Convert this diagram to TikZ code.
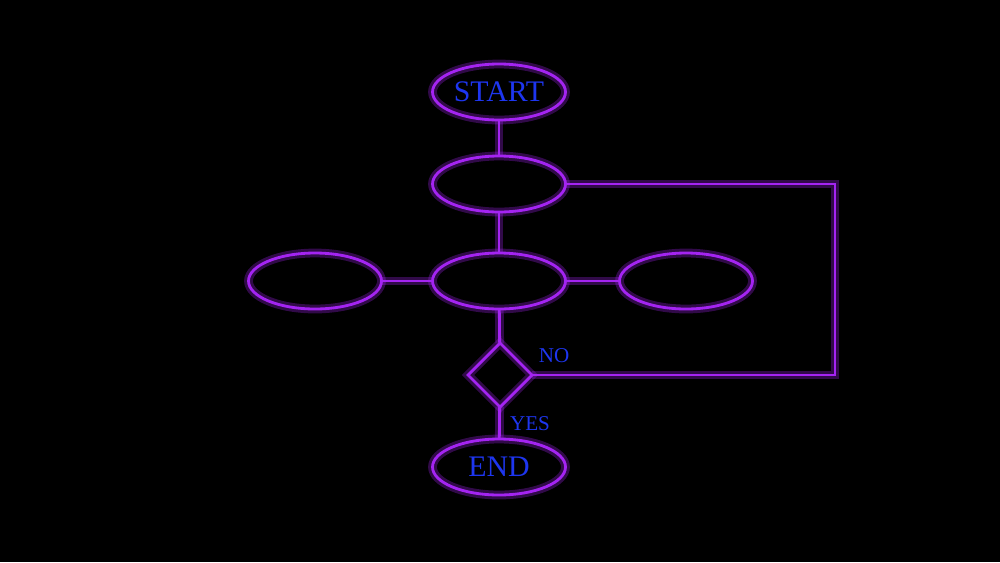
\documentclass[tikz,border=0pt]{standalone}
\usepackage{fontspec}
\setmainfont{Liberation Serif}
\usetikzlibrary{shapes.geometric}

\definecolor{neon}{HTML}{A424F2}
\definecolor{ink}{HTML}{1E36F0}

\tikzset{
  glow/.style={preaction={draw=neon,line width=5pt,opacity=0.3}},
  neonline/.style={draw=neon,line width=1.6pt,glow},
  oval/.style={ellipse,neonline,minimum width=2.66cm,minimum height=1.12cm,inner sep=0pt,outer sep=0pt,text=ink,font=\fontsize{17}{17}\selectfont},
  choice/.style={diamond,neonline,minimum width=1.28cm,minimum height=1.28cm,inner sep=0pt,outer sep=0pt},
  tag/.style={text=ink,font=\fontsize{12}{12}\selectfont,inner sep=0pt}
}

\begin{document}
\begin{tikzpicture}[x=0.02cm,y=-0.02cm]

% black background, fixes the size of the page
\fill [black] (0,0) rectangle (1000,562);
\useasboundingbox (0,0) rectangle (1000,562);

% ovals
\node[oval] (start) at (499,92) {START};
\node[oval] (step1) at (499,184) {};
\node[oval] (hub) at (499,281) {};
\node[oval] (left) at (315,281) {};
\node[oval] (right) at (686,281) {};
\node[oval] (stop) at (499,467) {END};

% decision
\node[choice] (dec) at (500,375) {};

% corners of the loop back
\coordinate (c1) at (835,184);
\coordinate (c2) at (835,375);

% connectors
\draw[neonline] (start) -- (step1);
\draw[neonline] (step1) -- (hub);
\draw[neonline] (hub) -- (left);
\draw[neonline] (hub) -- (right);
\draw[neonline] (hub) -- (dec);
\draw[neonline] (dec) -- (stop);
\draw[neonline,line join=miter] (step1.east) -- (c1) -- (c2) -- (dec.east);

% labels
\node[tag] (no) at (554,356) {NO};
\node[tag] (yes) at (530,424) {YES};

\end{tikzpicture}
\end{document}
